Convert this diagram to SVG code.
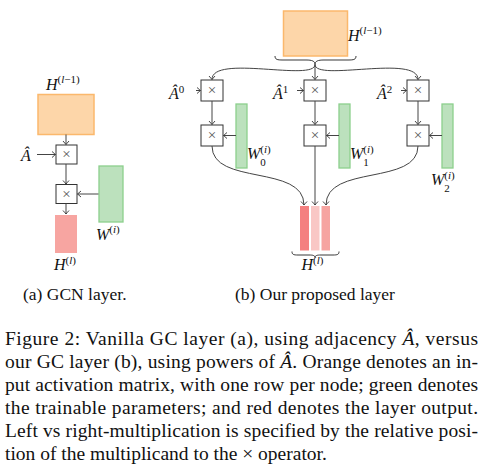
<svg xmlns="http://www.w3.org/2000/svg" width="482" height="472" viewBox="0 0 482 472">
<defs>
<marker id="arr" viewBox="-5 -4 6 8" markerWidth="6" markerHeight="8" refX="0" refY="0" orient="auto" markerUnits="userSpaceOnUse">
<path d="M-3.5,-3 Q-1,-0.8 0,0 Q-1,0.8 -3.5,3" fill="none" stroke="#333" stroke-width="0.9"/>
</marker>
</defs>
<style>
.orange{fill:#fdd6a9;stroke:#fbb86c;stroke-width:1.5}
.green{fill:#bce1bd;stroke:#8ccf8d;stroke-width:1.3}
.box{fill:#fff;stroke:#333;stroke-width:1}
.op{font-family:"Liberation Serif",serif;font-size:15px;fill:#555;text-anchor:middle}
.m{font-family:"Liberation Serif",serif;font-size:16px;fill:#111;font-style:italic}
.sup{font-size:11px;font-style:normal}
.c{fill:none;stroke:#444;stroke-width:1;marker-end:url(#arr)}
.br{fill:none;stroke:#222;stroke-width:0.9}
.cap{font-family:"Liberation Serif",serif;font-size:19.5px;fill:#111}
.sub{font-family:"Liberation Serif",serif;font-size:17.5px;fill:#111}
</style>
<rect width="482" height="472" fill="#fff"/>

<!-- Panel (a) -->
<g id="a-input"><rect class="orange" x="38" y="94.5" width="56" height="40"/>
<text class="m" x="46" y="89.5">H<tspan class="sup" dy="-6.5">(<tspan font-style="italic">l</tspan>−1)</tspan></text></g>
<g id="a-adj"><text class="m" x="21" y="160.5">Â</text></g>
<g id="a-mul1"><rect class="box" x="56" y="145" width="21" height="19"/><text class="op" x="66.5" y="159">×</text></g>
<g id="a-mul2"><rect class="box" x="56" y="184.5" width="21" height="19"/><text class="op" x="66.5" y="198.5">×</text></g>
<g id="a-weight"><rect class="green" x="99" y="166" width="24" height="56"/>
<text class="m" x="96" y="239.5">W<tspan class="sup" dy="-6.5">(<tspan font-style="italic">i</tspan>)</tspan></text></g>
<g id="a-output"><rect x="55" y="215" width="22" height="38" fill="#f7a5a1"/>
<text class="m" x="54" y="270">H<tspan class="sup" dy="-6.5">(<tspan font-style="italic">l</tspan>)</tspan></text></g>

<!-- Panel (b) -->
<g id="b-input"><rect class="orange" x="283.5" y="11" width="64" height="45"/>
<text class="m" x="348" y="40.5">H<tspan class="sup" dy="-6.5">(<tspan font-style="italic">l</tspan>−1)</tspan></text></g>
<g id="b-adj0"><text class="m" x="169" y="99">Â<tspan class="sup" dy="-6.5">0</tspan></text></g>
<g id="b-adj1"><text class="m" x="273" y="99">Â<tspan class="sup" dy="-6.5">1</tspan></text></g>
<g id="b-adj2"><text class="m" x="377" y="99">Â<tspan class="sup" dy="-6.5">2</tspan></text></g>
<g id="b-mul0a"><rect class="box" x="201" y="80" width="22" height="21"/><text class="op" x="212" y="95">×</text></g>
<g id="b-mul1a"><rect class="box" x="304" y="80" width="22" height="21"/><text class="op" x="315" y="95">×</text></g>
<g id="b-mul2a"><rect class="box" x="407" y="80" width="22" height="21"/><text class="op" x="418" y="95">×</text></g>
<g id="b-mul0b"><rect class="box" x="201" y="125" width="22" height="21"/><text class="op" x="212" y="140">×</text></g>
<g id="b-mul1b"><rect class="box" x="304" y="125" width="22" height="21"/><text class="op" x="315" y="140">×</text></g>
<g id="b-mul2b"><rect class="box" x="407" y="125" width="22" height="21"/><text class="op" x="418" y="140">×</text></g>
<g id="b-w0"><rect class="green" x="236" y="104" width="11" height="64"/>
<text class="m" x="247" y="159">W<tspan class="sup" dy="-6.5">(<tspan font-style="italic">i</tspan>)</tspan><tspan class="sup" dx="-10.4" dy="13">0</tspan></text></g>
<g id="b-w1"><rect class="green" x="339" y="104" width="11" height="64"/>
<text class="m" x="350" y="159">W<tspan class="sup" dy="-6.5">(<tspan font-style="italic">i</tspan>)</tspan><tspan class="sup" dx="-10.4" dy="13">1</tspan></text></g>
<g id="b-w2"><rect class="green" x="442" y="104" width="11" height="64"/>
<text class="m" x="431" y="185">W<tspan class="sup" dy="-6.5">(<tspan font-style="italic">i</tspan>)</tspan><tspan class="sup" dx="-10.4" dy="13">2</tspan></text></g>
<g id="b-output">
<rect x="300" y="206" width="9" height="44.5" fill="#f48080"/>
<rect x="311" y="206" width="8.5" height="44.5" fill="#f9c7c5"/>
<rect x="321.5" y="206" width="8.5" height="44.5" fill="#f6a4a1"/>
<text class="m" x="301.5" y="270">H<tspan class="sup" dy="-6.5">(<tspan font-style="italic">l</tspan>)</tspan></text></g>

<g id="connectors">
<path class="c" d="M66,134.5 V144.5"/>
<path class="c" d="M37,154.5 H55.5"/>
<path class="c" d="M66,164 V184"/>
<path class="c" d="M98.5,194 H77.5"/>
<path class="c" d="M66,203.5 V214"/>
<path class="br" d="M275,56 C275,59.5 277,60 283,60 L306,60 C312,60 315,61 315,64.5 C315,61 318,60 324,60 L348,60 C354,60 356,59.5 356,56"/>
<path class="c" d="M315,64.5 C315,82 212,54 212,79.5"/>
<path class="c" d="M315,64.5 V79.5"/>
<path class="c" d="M315,64.5 C315,82 418,54 418,79.5"/>
<path class="c" d="M196,90.5 H200.5"/>
<path class="c" d="M297,90.5 H303.5"/>
<path class="c" d="M401,90.5 H406.5"/>
<path class="c" d="M212,101 V124.5"/>
<path class="c" d="M315,101 V124.5"/>
<path class="c" d="M418,101 V124.5"/>
<path class="c" d="M236,135.5 H223.5"/>
<path class="c" d="M339,135.5 H326.5"/>
<path class="c" d="M442,135.5 H429.5"/>
<path class="c" d="M212,146 C212,186 304,164 304,205"/>
<path class="c" d="M315,146 V205"/>
<path class="c" d="M418,146 C418,186 326,164 326,205"/>
<path class="br" d="M292,251.5 C292,254.5 293.5,255 298,255 L309,255 C313,255 315,255.5 315,257.5 C315,255.5 317,255 321,255 L333,255 C337.5,255 339,254.5 339,251.5"/>
</g>

<text class="sub" x="23" y="300">(a) GCN layer.</text>
<text class="sub" x="235" y="300">(b) Our proposed layer</text>

<text class="cap" x="5" y="345" textLength="473" lengthAdjust="spacing">Figure 2: Vanilla GC layer (a), using adjacency <tspan font-style="italic">Â</tspan>, versus</text>
<text class="cap" x="5" y="368" textLength="473" lengthAdjust="spacing">our GC layer (b), using powers of <tspan font-style="italic">Â</tspan>. Orange denotes an in-</text>
<text class="cap" x="5" y="391" textLength="473" lengthAdjust="spacing">put activation matrix, with one row per node; green denotes</text>
<text class="cap" x="5" y="414" textLength="473" lengthAdjust="spacing">the trainable parameters; and red denotes the layer output.</text>
<text class="cap" x="5" y="437" textLength="473" lengthAdjust="spacing">Left vs right-multiplication is specified by the relative posi-</text>
<text class="cap" x="5" y="460">tion of the multiplicand to the × operator.</text>
</svg>
